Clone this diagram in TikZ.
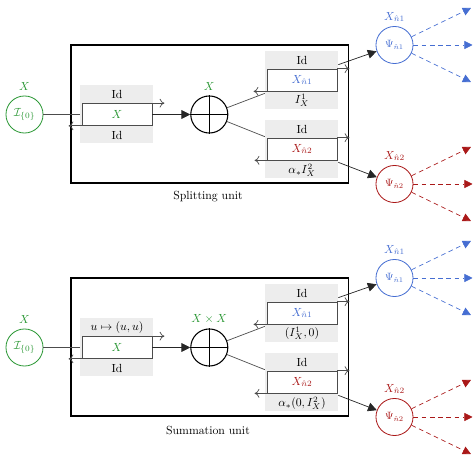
\documentclass[tikz,border=0pt]{standalone}
\usetikzlibrary{arrows.meta,calc}
\definecolor{cgreen}{RGB}{40,150,50}
\definecolor{cblue}{RGB}{70,110,210}
\definecolor{cred}{RGB}{170,25,25}
\definecolor{cbg}{gray}{0.93}
\definecolor{cline}{gray}{0.3}
\tikzset{
  bigbox/.style={draw=black, line width=0.9pt, minimum width=235.5pt, minimum height=117.3pt, inner sep=0},
  graybg/.style={fill=cbg, draw=none, minimum width=62pt, minimum height=49.3pt, inner sep=0},
  innerbox/.style={draw=cline, line width=0.6pt, fill=white, minimum width=59.5pt, minimum height=18.7pt, inner sep=0},
  blabel/.style={inner sep=0},
  opluscirc/.style={draw=black, line width=0.9pt, circle, minimum size=31.5pt, inner sep=0},
  sourcecirc/.style={draw=cgreen, line width=0.7pt, circle, minimum size=31.5pt, inner sep=0, text=cgreen},
  bluecirc/.style={draw=cblue, line width=0.7pt, circle, minimum size=31.5pt, inner sep=0, text=cblue},
  redcirc/.style={draw=cred, line width=0.7pt, circle, minimum size=31.5pt, inner sep=0, text=cred},
  openarr/.style={draw=cline, line width=0.6pt, -{To[length=4pt,width=7.5pt]}},
  plainln/.style={draw=cline, line width=0.6pt},
  fillarr/.style={draw=black!85, line width=0.6pt, -{Triangle[length=7.5pt,width=7.5pt]}},
  dasharr/.style={dashed, dash pattern=on 4pt off 3pt, line width=0.6pt, -{Triangle[length=7pt,width=7pt]}},
}
\newcommand\mypanel[8]{%
\begin{scope}[yshift=#2]
  \node[bigbox] (#1U) at (209.5,114) {};
  \node[blabel] (#1T) at (208,197) {#8};
  \node[sourcecirc, label={[text=cgreen, label distance=1pt]above:$X$}] (#1I) at (24.5,114.5) {$\mathcal{I}_{\{0\}}$};
  % left block
  \node[graybg] (#1Lg) at (116.5,114.5) {};
  \node[innerbox] (#1Li) at (117,114.5) {\color{cgreen}$X$};
  \node[blabel] (#1Lt) at (117,94.5) {#3};
  \node[blabel] (#1Lb) at (117,135) {#4};
  % oplus
  \node[opluscirc, label={[text=cgreen, label distance=1pt]above:#5}] (#1O) at (209.3,114.5) {};
  \draw[line width=0.9pt] (#1O.north) -- (#1O.south) (#1O.west) -- (#1O.east);
  % right upper block
  \node[graybg] (#1RUg) at (301.5,80) {};
  \node[innerbox] (#1RUi) at (302,80) {\color{cblue}$X_{\hat n 1}$};
  \node[blabel] (#1RUt) at (302,60) {Id};
  \node[blabel] (#1RUb) at (302,100.5) {#6};
  % right lower block
  \node[graybg] (#1RLg) at (301.5,149) {};
  \node[innerbox] (#1RLi) at (302,149) {\color{cred}$X_{\hat n 2}$};
  \node[blabel] (#1RLt) at (302,129) {Id};
  \node[blabel] (#1RLb) at (302,170.5) {#7};
  % psi circles
  \node[bluecirc, label={[text=cblue, label distance=0pt]above:$X_{\hat n 1}$}] (#1P1) at (394.5,45) {\small$\Psi_{\hat n 1}$};
  \node[redcirc, label={[text=cred, label distance=0pt]above:$X_{\hat n 2}$}] (#1P2) at (394.5,184) {\small$\Psi_{\hat n 2}$};
  % free ends
  \coordinate (#1e1) at (471,8);
  \coordinate (#1e2) at (472.5,45);
  \coordinate (#1e3) at (471,82);
  \coordinate (#1e4) at (471,147);
  \coordinate (#1e5) at (472.5,184);
  \coordinate (#1e6) at (471,221);
  \coordinate (#1a1) at ($(#1Li.north east)+(12,0)$);
  \coordinate (#1a2) at ($(#1Li.south west)+(-13,0)$);
  \coordinate (#1a3) at ($(#1RUi.north east)+(12,0)$);
  \coordinate (#1a4) at ($(#1RUi.south west)+(-13,0)$);
  \coordinate (#1a5) at ($(#1RLi.north east)+(12,0)$);
  \coordinate (#1a6) at ($(#1RLi.south west)+(-12,0)$);
  \coordinate (#1s1) at ($(#1RUi.north east)+(1,-4)$);
  \coordinate (#1s2) at ($(#1RLi.south east)+(1,2)$);
  \coordinate (#1t1) at ($(#1RUg.west |- #1RUi.south)+(0,2)$);
  \coordinate (#1t2) at ($(#1RLg.west |- #1RLi.north)+(0,-1)$);
  % connectors
  \draw[plainln] (#1I) -- (#1Lg.west);
  \draw[openarr] (#1Li.north east) -- (#1a1);
  \draw[openarr] (#1Li.south west) -- (#1a2);
  \draw[fillarr] (#1Li.east) -- (#1O);
  \draw[plainln] (#1O) -- (#1t1);
  \draw[plainln] (#1O) -- (#1t2);
  \draw[openarr] (#1RUi.north east) -- (#1a3);
  \draw[openarr] (#1RUi.south west) -- (#1a4);
  \draw[openarr] (#1RLi.north east) -- (#1a5);
  \draw[openarr] (#1RLi.south west) -- (#1a6);
  \draw[fillarr] (#1s1) -- (#1P1);
  \draw[fillarr] (#1s2) -- (#1P2);
  \draw[dasharr, cblue] (#1P1) -- (#1e1);
  \draw[dasharr, cblue] (#1P1) -- (#1e2);
  \draw[dasharr, cblue] (#1P1) -- (#1e3);
  \draw[dasharr, cred] (#1P2) -- (#1e4);
  \draw[dasharr, cred] (#1P2) -- (#1e5);
  \draw[dasharr, cred] (#1P2) -- (#1e6);
\end{scope}}
\begin{document}
\begin{tikzpicture}[x=0.85pt, y=-0.85pt]
\useasboundingbox (0,0) rectangle (474,463);
\mypanel{a}{0pt}{Id}{Id}{$X$}{$I_X^1$}{$\alpha_* I_X^2$}{Splitting unit}
\mypanel{b}{-198.05pt}{$u\mapsto(u,u)$}{Id}{$X\times X$}{$(I_X^1,0)$}{$\alpha_*(0,I_X^2)$}{Summation unit}
\end{tikzpicture}
\end{document}
